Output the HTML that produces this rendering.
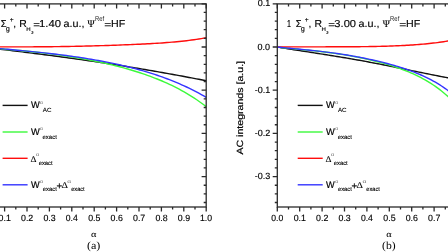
<!DOCTYPE html>
<html><head><meta charset="utf-8"><style>
html,body{margin:0;padding:0;background:#fff;width:448px;height:252px;overflow:hidden}
svg{display:block}
</style></head><body>
<svg width="448" height="252" viewBox="0 0 448 252" text-rendering="geometricPrecision">
<path d="M-12.00,47.70 L-9.55,48.00 L-7.10,48.30 L-4.64,48.59 L-2.19,48.89 L0.26,49.19 L2.71,49.49 L5.16,49.79 L7.61,50.09 L10.07,50.39 L12.52,50.69 L14.97,50.99 L17.42,51.29 L19.87,51.59 L22.32,51.90 L24.78,52.20 L27.23,52.51 L29.68,52.82 L32.13,53.13 L34.58,53.44 L37.03,53.75 L39.49,54.06 L41.94,54.38 L44.39,54.69 L46.84,55.01 L49.29,55.33 L51.74,55.65 L54.20,55.98 L56.65,56.30 L59.10,56.63 L61.55,56.96 L64.00,57.29 L66.45,57.62 L68.91,57.96 L71.36,58.29 L73.81,58.63 L76.26,58.97 L78.71,59.32 L81.16,59.66 L83.62,60.01 L86.07,60.36 L88.52,60.72 L90.97,61.07 L93.42,61.43 L95.87,61.79 L98.33,62.15 L100.78,62.52 L103.23,62.89 L105.68,63.26 L108.13,63.63 L110.58,64.00 L113.04,64.38 L115.49,64.76 L117.94,65.15 L120.39,65.53 L122.84,65.92 L125.29,66.31 L127.75,66.71 L130.20,67.10 L132.65,67.50 L135.10,67.91 L137.55,68.31 L140.00,68.72 L142.46,69.13 L144.91,69.54 L147.36,69.96 L149.81,70.38 L152.26,70.80 L154.71,71.22 L157.17,71.65 L159.62,72.08 L162.07,72.51 L164.52,72.95 L166.97,73.38 L169.42,73.82 L171.88,74.27 L174.33,74.71 L176.78,75.16 L179.23,75.61 L181.68,76.06 L184.13,76.52 L186.59,76.98 L189.04,77.44 L191.49,77.90 L193.94,78.37 L196.39,78.83 L198.84,79.30 L201.30,79.78 L203.75,80.25 L206.20,80.73" stroke="#111111" stroke-width="1.4" fill="none"/>
<path d="M-12.00,47.61 L-9.55,47.86 L-7.10,48.10 L-4.64,48.33 L-2.19,48.56 L0.26,48.79 L2.71,49.01 L5.16,49.23 L7.61,49.45 L10.07,49.67 L12.52,49.89 L14.97,50.12 L17.42,50.34 L19.87,50.57 L22.32,50.80 L24.78,51.04 L27.23,51.28 L29.68,51.53 L32.13,51.78 L34.58,52.03 L37.03,52.30 L39.49,52.57 L41.94,52.84 L44.39,53.13 L46.84,53.42 L49.29,53.72 L51.74,54.03 L54.20,54.35 L56.65,54.67 L59.10,55.01 L61.55,55.35 L64.00,55.71 L66.45,56.07 L68.91,56.45 L71.36,56.83 L73.81,57.23 L76.26,57.63 L78.71,58.05 L81.16,58.47 L83.62,58.91 L86.07,59.36 L88.52,59.82 L90.97,60.29 L93.42,60.78 L95.87,61.28 L98.33,61.79 L100.78,62.31 L103.23,62.85 L105.68,63.40 L108.13,63.96 L110.58,64.54 L113.04,65.13 L115.49,65.74 L117.94,66.37 L120.39,67.01 L122.84,67.66 L125.29,68.34 L127.75,69.03 L130.20,69.74 L132.65,70.47 L135.10,71.22 L137.55,71.99 L140.00,72.78 L142.46,73.59 L144.91,74.43 L147.36,75.29 L149.81,76.18 L152.26,77.09 L154.71,78.03 L157.17,79.00 L159.62,80.00 L162.07,81.02 L164.52,82.08 L166.97,83.18 L169.42,84.31 L171.88,85.47 L174.33,86.68 L176.78,87.92 L179.23,89.21 L181.68,90.53 L184.13,91.91 L186.59,93.33 L189.04,94.80 L191.49,96.32 L193.94,97.90 L196.39,99.53 L198.84,101.22 L201.30,102.97 L203.75,104.78 L206.20,106.66" stroke="#3cfa3c" stroke-width="1.4" fill="none"/>
<path d="M-12.00,46.93 L-9.55,46.91 L-7.10,46.89 L-4.64,46.88 L-2.19,46.87 L0.26,46.87 L2.71,46.86 L5.16,46.86 L7.61,46.86 L10.07,46.86 L12.52,46.86 L14.97,46.86 L17.42,46.86 L19.87,46.86 L22.32,46.85 L24.78,46.85 L27.23,46.85 L29.68,46.84 L32.13,46.83 L34.58,46.82 L37.03,46.81 L39.49,46.80 L41.94,46.78 L44.39,46.76 L46.84,46.74 L49.29,46.72 L51.74,46.69 L54.20,46.66 L56.65,46.63 L59.10,46.60 L61.55,46.56 L64.00,46.52 L66.45,46.48 L68.91,46.44 L71.36,46.39 L73.81,46.34 L76.26,46.29 L78.71,46.24 L81.16,46.18 L83.62,46.13 L86.07,46.06 L88.52,46.00 L90.97,45.94 L93.42,45.87 L95.87,45.80 L98.33,45.73 L100.78,45.66 L103.23,45.59 L105.68,45.51 L108.13,45.43 L110.58,45.35 L113.04,45.27 L115.49,45.18 L117.94,45.10 L120.39,45.01 L122.84,44.92 L125.29,44.82 L127.75,44.72 L130.20,44.62 L132.65,44.52 L135.10,44.41 L137.55,44.30 L140.00,44.19 L142.46,44.07 L144.91,43.95 L147.36,43.82 L149.81,43.69 L152.26,43.55 L154.71,43.40 L157.17,43.25 L159.62,43.09 L162.07,42.93 L164.52,42.75 L166.97,42.57 L169.42,42.38 L171.88,42.17 L174.33,41.96 L176.78,41.73 L179.23,41.49 L181.68,41.24 L184.13,40.97 L186.59,40.68 L189.04,40.38 L191.49,40.06 L193.94,39.73 L196.39,39.37 L198.84,38.99 L201.30,38.59 L203.75,38.16 L206.20,37.71" stroke="#ff0d0d" stroke-width="1.4" fill="none"/>
<path d="M-12.00,47.54 L-9.55,47.77 L-7.10,47.99 L-4.64,48.21 L-2.19,48.43 L0.26,48.65 L2.71,48.87 L5.16,49.09 L7.61,49.31 L10.07,49.53 L12.52,49.75 L14.97,49.98 L17.42,50.20 L19.87,50.43 L22.32,50.66 L24.78,50.89 L27.23,51.13 L29.68,51.37 L32.13,51.61 L34.58,51.86 L37.03,52.11 L39.49,52.37 L41.94,52.63 L44.39,52.89 L46.84,53.16 L49.29,53.44 L51.74,53.72 L54.20,54.01 L56.65,54.31 L59.10,54.61 L61.55,54.92 L64.00,55.23 L66.45,55.55 L68.91,55.88 L71.36,56.22 L73.81,56.57 L76.26,56.92 L78.71,57.28 L81.16,57.66 L83.62,58.04 L86.07,58.43 L88.52,58.82 L90.97,59.23 L93.42,59.65 L95.87,60.08 L98.33,60.52 L100.78,60.97 L103.23,61.43 L105.68,61.91 L108.13,62.39 L110.58,62.89 L113.04,63.40 L115.49,63.93 L117.94,64.46 L120.39,65.01 L122.84,65.58 L125.29,66.16 L127.75,66.75 L130.20,67.36 L132.65,67.99 L135.10,68.63 L137.55,69.29 L140.00,69.97 L142.46,70.67 L144.91,71.38 L147.36,72.11 L149.81,72.87 L152.26,73.64 L154.71,74.43 L157.17,75.25 L159.62,76.09 L162.07,76.95 L164.52,77.84 L166.97,78.75 L169.42,79.68 L171.88,80.64 L174.33,81.63 L176.78,82.65 L179.23,83.70 L181.68,84.77 L184.13,85.88 L186.59,87.01 L189.04,88.18 L191.49,89.39 L193.94,90.62 L196.39,91.90 L198.84,93.21 L201.30,94.55 L203.75,95.94 L206.20,97.37" stroke="#3434ff" stroke-width="1.4" fill="none"/>
<rect x="-17.8" y="3.9" width="224.0" height="203.1" fill="none" stroke="#2a2a2a" stroke-width="1.3"/>
<path d="M-17.80,207.0v4.6 M-17.80,3.9v4.6 M-6.60,207.0v2.5 M-6.60,3.9v2.5 M4.60,207.0v4.6 M4.60,3.9v4.6 M15.80,207.0v2.5 M15.80,3.9v2.5 M27.00,207.0v4.6 M27.00,3.9v4.6 M38.20,207.0v2.5 M38.20,3.9v2.5 M49.40,207.0v4.6 M49.40,3.9v4.6 M60.60,207.0v2.5 M60.60,3.9v2.5 M71.80,207.0v4.6 M71.80,3.9v4.6 M83.00,207.0v2.5 M83.00,3.9v2.5 M94.20,207.0v4.6 M94.20,3.9v4.6 M105.40,207.0v2.5 M105.40,3.9v2.5 M116.60,207.0v4.6 M116.60,3.9v4.6 M127.80,207.0v2.5 M127.80,3.9v2.5 M139.00,207.0v4.6 M139.00,3.9v4.6 M150.20,207.0v2.5 M150.20,3.9v2.5 M161.40,207.0v4.6 M161.40,3.9v4.6 M172.60,207.0v2.5 M172.60,3.9v2.5 M183.80,207.0v4.6 M183.80,3.9v4.6 M195.00,207.0v2.5 M195.00,3.9v2.5 M206.20,207.0v4.6 M206.20,3.9v4.6 M-17.8,202.52h-2.5 M206.2,202.52h-2.5 M-17.8,193.88h-2.5 M206.2,193.88h-2.5 M-17.8,185.24h-2.5 M206.2,185.24h-2.5 M-17.8,176.60h-4.6 M206.2,176.60h-4.6 M-17.8,167.96h-2.5 M206.2,167.96h-2.5 M-17.8,159.32h-2.5 M206.2,159.32h-2.5 M-17.8,150.68h-2.5 M206.2,150.68h-2.5 M-17.8,142.04h-2.5 M206.2,142.04h-2.5 M-17.8,133.40h-4.6 M206.2,133.40h-4.6 M-17.8,124.76h-2.5 M206.2,124.76h-2.5 M-17.8,116.12h-2.5 M206.2,116.12h-2.5 M-17.8,107.48h-2.5 M206.2,107.48h-2.5 M-17.8,98.84h-2.5 M206.2,98.84h-2.5 M-17.8,90.20h-4.6 M206.2,90.20h-4.6 M-17.8,81.56h-2.5 M206.2,81.56h-2.5 M-17.8,72.92h-2.5 M206.2,72.92h-2.5 M-17.8,64.28h-2.5 M206.2,64.28h-2.5 M-17.8,55.64h-2.5 M206.2,55.64h-2.5 M-17.8,47.00h-4.6 M206.2,47.00h-4.6 M-17.8,38.36h-2.5 M206.2,38.36h-2.5 M-17.8,29.72h-2.5 M206.2,29.72h-2.5 M-17.8,21.08h-2.5 M206.2,21.08h-2.5 M-17.8,12.44h-2.5 M206.2,12.44h-2.5 M-17.8,3.80h-4.6 M206.2,3.80h-4.6" stroke="#2a2a2a" stroke-width="1.3" fill="none"/>
<path d="M277.30,47.00 L279.35,47.35 L281.41,47.70 L283.46,48.04 L285.51,48.38 L287.56,48.72 L289.62,49.05 L291.67,49.38 L293.72,49.70 L295.78,50.02 L297.83,50.35 L299.88,50.66 L301.93,50.98 L303.99,51.30 L306.04,51.62 L308.09,51.93 L310.14,52.25 L312.20,52.56 L314.25,52.88 L316.30,53.20 L318.36,53.51 L320.41,53.83 L322.46,54.15 L324.51,54.47 L326.57,54.80 L328.62,55.12 L330.67,55.45 L332.73,55.78 L334.78,56.11 L336.83,56.44 L338.88,56.78 L340.94,57.12 L342.99,57.46 L345.04,57.80 L347.10,58.15 L349.15,58.50 L351.20,58.86 L353.25,59.22 L355.31,59.58 L357.36,59.94 L359.41,60.31 L361.47,60.68 L363.52,61.05 L365.57,61.43 L367.62,61.81 L369.68,62.19 L371.73,62.58 L373.78,62.97 L375.83,63.36 L377.89,63.76 L379.94,64.16 L381.99,64.56 L384.05,64.97 L386.10,65.37 L388.15,65.78 L390.20,66.19 L392.26,66.61 L394.31,67.02 L396.36,67.44 L398.42,67.86 L400.47,68.28 L402.52,68.70 L404.57,69.12 L406.63,69.55 L408.68,69.97 L410.73,70.39 L412.79,70.82 L414.84,71.24 L416.89,71.66 L418.94,72.09 L421.00,72.51 L423.05,72.93 L425.10,73.34 L427.16,73.76 L429.21,74.17 L431.26,74.58 L433.31,74.99 L435.37,75.39 L437.42,75.79 L439.47,76.19 L441.52,76.58 L443.58,76.96 L445.63,77.34 L447.68,77.71 L449.74,78.08 L451.79,78.43 L453.84,78.78 L455.89,79.13 L457.95,79.46 L460.00,79.79" stroke="#111111" stroke-width="1.4" fill="none"/>
<path d="M277.30,47.00 L279.35,47.26 L281.41,47.50 L283.46,47.73 L285.51,47.96 L287.56,48.17 L289.62,48.38 L291.67,48.59 L293.72,48.79 L295.78,48.99 L297.83,49.19 L299.88,49.39 L301.93,49.59 L303.99,49.79 L306.04,49.99 L308.09,50.19 L310.14,50.40 L312.20,50.61 L314.25,50.83 L316.30,51.05 L318.36,51.28 L320.41,51.51 L322.46,51.75 L324.51,52.00 L326.57,52.26 L328.62,52.52 L330.67,52.79 L332.73,53.07 L334.78,53.36 L336.83,53.65 L338.88,53.96 L340.94,54.27 L342.99,54.60 L345.04,54.93 L347.10,55.28 L349.15,55.63 L351.20,56.00 L353.25,56.37 L355.31,56.76 L357.36,57.15 L359.41,57.56 L361.47,57.98 L363.52,58.41 L365.57,58.85 L367.62,59.31 L369.68,59.78 L371.73,60.26 L373.78,60.75 L375.83,61.26 L377.89,61.79 L379.94,62.32 L381.99,62.88 L384.05,63.45 L386.10,64.04 L388.15,64.64 L390.20,65.27 L392.26,65.91 L394.31,66.58 L396.36,67.27 L398.42,67.98 L400.47,68.71 L402.52,69.47 L404.57,70.26 L406.63,71.07 L408.68,71.91 L410.73,72.79 L412.79,73.69 L414.84,74.63 L416.89,75.61 L418.94,76.63 L421.00,77.68 L423.05,78.78 L425.10,79.93 L427.16,81.12 L429.21,82.36 L431.26,83.65 L433.31,85.00 L435.37,86.40 L437.42,87.87 L439.47,89.40 L441.52,91.00 L443.58,92.67 L445.63,94.42 L447.68,96.24 L449.74,98.14 L451.79,100.13 L453.84,102.21 L455.89,104.39 L457.95,106.66 L460.00,109.03" stroke="#3cfa3c" stroke-width="1.4" fill="none"/>
<path d="M277.30,47.00 L279.35,46.98 L281.41,46.95 L283.46,46.94 L285.51,46.92 L287.56,46.90 L289.62,46.89 L291.67,46.88 L293.72,46.87 L295.78,46.86 L297.83,46.86 L299.88,46.85 L301.93,46.85 L303.99,46.84 L306.04,46.84 L308.09,46.84 L310.14,46.83 L312.20,46.83 L314.25,46.83 L316.30,46.83 L318.36,46.83 L320.41,46.83 L322.46,46.83 L324.51,46.83 L326.57,46.82 L328.62,46.82 L330.67,46.82 L332.73,46.82 L334.78,46.81 L336.83,46.81 L338.88,46.80 L340.94,46.80 L342.99,46.79 L345.04,46.78 L347.10,46.77 L349.15,46.76 L351.20,46.75 L353.25,46.73 L355.31,46.72 L357.36,46.70 L359.41,46.68 L361.47,46.66 L363.52,46.63 L365.57,46.61 L367.62,46.58 L369.68,46.55 L371.73,46.51 L373.78,46.47 L375.83,46.43 L377.89,46.39 L379.94,46.34 L381.99,46.29 L384.05,46.24 L386.10,46.18 L388.15,46.12 L390.20,46.05 L392.26,45.98 L394.31,45.90 L396.36,45.82 L398.42,45.73 L400.47,45.63 L402.52,45.53 L404.57,45.43 L406.63,45.32 L408.68,45.20 L410.73,45.07 L412.79,44.93 L414.84,44.79 L416.89,44.64 L418.94,44.48 L421.00,44.31 L423.05,44.13 L425.10,43.94 L427.16,43.74 L429.21,43.53 L431.26,43.31 L433.31,43.07 L435.37,42.83 L437.42,42.57 L439.47,42.29 L441.52,42.01 L443.58,41.71 L445.63,41.39 L447.68,41.05 L449.74,40.70 L451.79,40.34 L453.84,39.95 L455.89,39.55 L457.95,39.13 L460.00,38.68" stroke="#ff0d0d" stroke-width="1.4" fill="none"/>
<path d="M277.30,47.00 L279.35,47.23 L281.41,47.45 L283.46,47.67 L285.51,47.88 L287.56,48.08 L289.62,48.28 L291.67,48.47 L293.72,48.66 L295.78,48.86 L297.83,49.05 L299.88,49.24 L301.93,49.43 L303.99,49.63 L306.04,49.83 L308.09,50.03 L310.14,50.23 L312.20,50.44 L314.25,50.66 L316.30,50.88 L318.36,51.11 L320.41,51.34 L322.46,51.58 L324.51,51.83 L326.57,52.08 L328.62,52.34 L330.67,52.61 L332.73,52.89 L334.78,53.17 L336.83,53.46 L338.88,53.76 L340.94,54.07 L342.99,54.39 L345.04,54.71 L347.10,55.05 L349.15,55.39 L351.20,55.74 L353.25,56.10 L355.31,56.47 L357.36,56.85 L359.41,57.24 L361.47,57.64 L363.52,58.04 L365.57,58.46 L367.62,58.88 L369.68,59.32 L371.73,59.77 L373.78,60.23 L375.83,60.69 L377.89,61.17 L379.94,61.67 L381.99,62.17 L384.05,62.69 L386.10,63.22 L388.15,63.76 L390.20,64.32 L392.26,64.89 L394.31,65.48 L396.36,66.08 L398.42,66.70 L400.47,67.34 L402.52,68.00 L404.57,68.68 L406.63,69.38 L408.68,70.11 L410.73,70.85 L412.79,71.63 L414.84,72.42 L416.89,73.25 L418.94,74.11 L421.00,74.99 L423.05,75.91 L425.10,76.87 L427.16,77.86 L429.21,78.89 L431.26,79.96 L433.31,81.07 L435.37,82.23 L437.42,83.44 L439.47,84.70 L441.52,86.01 L443.58,87.38 L445.63,88.80 L447.68,90.29 L449.74,91.85 L451.79,93.47 L453.84,95.16 L455.89,96.93 L457.95,98.78 L460.00,100.72" stroke="#3434ff" stroke-width="1.4" fill="none"/>
<rect x="277.3" y="3.9" width="224.0" height="203.1" fill="none" stroke="#2a2a2a" stroke-width="1.3"/>
<path d="M277.30,207.0v4.6 M277.30,3.9v4.6 M288.50,207.0v2.5 M288.50,3.9v2.5 M299.70,207.0v4.6 M299.70,3.9v4.6 M310.90,207.0v2.5 M310.90,3.9v2.5 M322.10,207.0v4.6 M322.10,3.9v4.6 M333.30,207.0v2.5 M333.30,3.9v2.5 M344.50,207.0v4.6 M344.50,3.9v4.6 M355.70,207.0v2.5 M355.70,3.9v2.5 M366.90,207.0v4.6 M366.90,3.9v4.6 M378.10,207.0v2.5 M378.10,3.9v2.5 M389.30,207.0v4.6 M389.30,3.9v4.6 M400.50,207.0v2.5 M400.50,3.9v2.5 M411.70,207.0v4.6 M411.70,3.9v4.6 M422.90,207.0v2.5 M422.90,3.9v2.5 M434.10,207.0v4.6 M434.10,3.9v4.6 M445.30,207.0v2.5 M445.30,3.9v2.5 M456.50,207.0v4.6 M456.50,3.9v4.6 M467.70,207.0v2.5 M467.70,3.9v2.5 M478.90,207.0v4.6 M478.90,3.9v4.6 M490.10,207.0v2.5 M490.10,3.9v2.5 M501.30,207.0v4.6 M501.30,3.9v4.6 M277.3,202.52h-2.5 M501.3,202.52h-2.5 M277.3,193.88h-2.5 M501.3,193.88h-2.5 M277.3,185.24h-2.5 M501.3,185.24h-2.5 M277.3,176.60h-4.6 M501.3,176.60h-4.6 M277.3,167.96h-2.5 M501.3,167.96h-2.5 M277.3,159.32h-2.5 M501.3,159.32h-2.5 M277.3,150.68h-2.5 M501.3,150.68h-2.5 M277.3,142.04h-2.5 M501.3,142.04h-2.5 M277.3,133.40h-4.6 M501.3,133.40h-4.6 M277.3,124.76h-2.5 M501.3,124.76h-2.5 M277.3,116.12h-2.5 M501.3,116.12h-2.5 M277.3,107.48h-2.5 M501.3,107.48h-2.5 M277.3,98.84h-2.5 M501.3,98.84h-2.5 M277.3,90.20h-4.6 M501.3,90.20h-4.6 M277.3,81.56h-2.5 M501.3,81.56h-2.5 M277.3,72.92h-2.5 M501.3,72.92h-2.5 M277.3,64.28h-2.5 M501.3,64.28h-2.5 M277.3,55.64h-2.5 M501.3,55.64h-2.5 M277.3,47.00h-4.6 M501.3,47.00h-4.6 M277.3,38.36h-2.5 M501.3,38.36h-2.5 M277.3,29.72h-2.5 M501.3,29.72h-2.5 M277.3,21.08h-2.5 M501.3,21.08h-2.5 M277.3,12.44h-2.5 M501.3,12.44h-2.5 M277.3,3.80h-4.6 M501.3,3.80h-4.6" stroke="#2a2a2a" stroke-width="1.3" fill="none"/>
<path d="M2.60,105.4h25" stroke="#111111" stroke-width="1.4"/>
<path d="M2.60,132.0h25" stroke="#3cfa3c" stroke-width="1.4"/>
<path d="M2.60,158.3h25" stroke="#ff0d0d" stroke-width="1.4"/>
<path d="M2.60,184.8h25" stroke="#3434ff" stroke-width="1.4"/>
<path d="M297.70,105.4h25" stroke="#111111" stroke-width="1.4"/>
<path d="M297.70,132.0h25" stroke="#3cfa3c" stroke-width="1.4"/>
<path d="M297.70,158.3h25" stroke="#ff0d0d" stroke-width="1.4"/>
<path d="M297.70,184.8h25" stroke="#3434ff" stroke-width="1.4"/>
<text transform="translate(287.07,27.10) scale(0.706,1)" font-family='"Liberation Sans",Arial,sans-serif' font-size="10.1" fill="#000" stroke="#000" stroke-width="0.198">1</text>
<text transform="translate(295.73,27.10) scale(0.933,1)" font-family='"Liberation Sans",Arial,sans-serif' font-size="10.1" fill="#000" stroke="#000" stroke-width="0.150">Σ</text>
<text transform="translate(300.75,31.00) scale(1.015,1)" font-family='"Liberation Sans",Arial,sans-serif' font-size="7.2" fill="#000" stroke="#000" stroke-width="0.138">g</text>
<text transform="translate(304.75,21.70) scale(1.015,1)" font-family='"Liberation Sans",Arial,sans-serif' font-size="6.6" fill="#000" stroke="#000" stroke-width="0.138">+</text>
<text transform="translate(308.40,26.60) scale(1.000,1)" font-family='"Liberation Sans",Arial,sans-serif' font-size="10.1" fill="#000" stroke="#000" stroke-width="0.140">,</text>
<text transform="translate(314.43,27.10) scale(1.033,1)" font-family='"Liberation Sans",Arial,sans-serif' font-size="10.1" fill="#000" stroke="#000" stroke-width="0.135">R</text>
<text transform="translate(321.45,31.40) scale(1.100,1)" font-family='"Liberation Sans",Arial,sans-serif' font-size="5.5" fill="#000" stroke="#000" stroke-width="0.127">H</text>
<text transform="translate(326.23,33.90) scale(1.086,1)" font-family='"Liberation Sans",Arial,sans-serif' font-size="3.8" fill="#000" stroke="#000" stroke-width="0.129">2</text>
<text transform="translate(328.33,27.85) scale(1.140,1)" font-family='"Liberation Sans",Arial,sans-serif' font-size="10.1" fill="#000" stroke="#000" stroke-width="0.123">=</text>
<text transform="translate(334.35,27.10) scale(1.104,1)" font-family='"Liberation Sans",Arial,sans-serif' font-size="10.1" fill="#000" stroke="#000" stroke-width="0.127">3.00</text>
<text transform="translate(358.57,27.10) scale(1.068,1)" font-family='"Liberation Sans",Arial,sans-serif' font-size="10.1" fill="#000" stroke="#000" stroke-width="0.131">a.u.,</text>
<text transform="translate(382.66,27.30) scale(0.957,1)" font-family='"Liberation Serif",serif' font-size="10.1" fill="#000" stroke="#000" stroke-width="0.146">Ψ</text>
<text transform="translate(390.08,21.40) scale(0.848,1)" font-family='"Liberation Sans",Arial,sans-serif' font-size="7.0" fill="#222" stroke="#222" stroke-width="0.000">Ref</text>
<text transform="translate(399.30,27.85) scale(1.200,1)" font-family='"Liberation Sans",Arial,sans-serif' font-size="10.1" fill="#000" stroke="#000" stroke-width="0.117">=</text>
<text transform="translate(406.11,27.00) scale(1.053,1)" font-family='"Liberation Sans",Arial,sans-serif' font-size="10.1" fill="#000" stroke="#000" stroke-width="0.133">HF</text>
<text transform="translate(326.00,108.30) scale(0.967,1)" font-family='"Liberation Sans",Arial,sans-serif' font-size="9.6" fill="#000" stroke="#000" stroke-width="0.207">W</text>
<text transform="translate(335.15,103.70) scale(1.000,1)" font-family='"Liberation Serif",serif' font-size="5.6" fill="#666" stroke="#666" stroke-width="0.000">α</text>
<text transform="translate(337.90,112.30) scale(1.025,1)" font-family='"Liberation Sans",Arial,sans-serif' font-size="6.1" fill="#000" stroke="#000" stroke-width="0.098">AC</text>
<text transform="translate(326.00,134.80) scale(0.967,1)" font-family='"Liberation Sans",Arial,sans-serif' font-size="9.6" fill="#000" stroke="#000" stroke-width="0.207">W</text>
<text transform="translate(335.15,130.20) scale(1.000,1)" font-family='"Liberation Serif",serif' font-size="5.6" fill="#666" stroke="#666" stroke-width="0.000">α</text>
<text transform="translate(337.65,138.80) scale(1.011,1)" font-family='"Liberation Sans",Arial,sans-serif' font-size="5.9" fill="#000" stroke="#000" stroke-width="0.099">exact</text>
<text transform="translate(325.54,161.70) scale(1.060,1)" font-family='"Liberation Serif",serif' font-size="8.8" fill="#000" stroke="#000" stroke-width="0.094">Δ</text>
<text transform="translate(331.03,156.40) scale(1.080,1)" font-family='"Liberation Serif",serif' font-size="5.6" fill="#666" stroke="#666" stroke-width="0.000">α</text>
<text transform="translate(333.75,165.30) scale(0.989,1)" font-family='"Liberation Sans",Arial,sans-serif' font-size="5.9" fill="#000" stroke="#000" stroke-width="0.101">exact</text>
<text transform="translate(326.10,187.80) scale(0.956,1)" font-family='"Liberation Sans",Arial,sans-serif' font-size="9.6" fill="#000" stroke="#000" stroke-width="0.209">W</text>
<text transform="translate(335.14,182.90) scale(1.040,1)" font-family='"Liberation Serif",serif' font-size="5.6" fill="#666" stroke="#666" stroke-width="0.000">α</text>
<text transform="translate(337.95,191.20) scale(0.989,1)" font-family='"Liberation Sans",Arial,sans-serif' font-size="5.9" fill="#000" stroke="#000" stroke-width="0.101">exact</text>
<text transform="translate(351.49,188.55) scale(1.011,1)" font-family='"Liberation Sans",Arial,sans-serif' font-size="9.6" fill="#000" stroke="#000" stroke-width="0.198">+</text>
<text transform="translate(356.51,187.80) scale(1.140,1)" font-family='"Liberation Serif",serif' font-size="8.8" fill="#000" stroke="#000" stroke-width="0.088">Δ</text>
<text transform="translate(362.47,182.90) scale(1.320,1)" font-family='"Liberation Serif",serif' font-size="5.6" fill="#666" stroke="#666" stroke-width="0.000">α</text>
<text transform="translate(366.26,191.20) scale(0.960,1)" font-family='"Liberation Sans",Arial,sans-serif' font-size="5.9" fill="#000" stroke="#000" stroke-width="0.104">exact</text>
<text transform="translate(386.21,237.10) scale(1.176,1)" font-family='"Liberation Serif",serif' font-size="8.8" fill="#000" stroke="#000" stroke-width="0.043">α</text>
<text transform="translate(382.07,248.75) scale(1.055,1)" font-family='"Liberation Serif",serif' font-size="11.0" fill="#000" stroke="#000" stroke-width="0.000">(b)</text>
<text transform="translate(-8.03,27.10) scale(0.706,1)" font-family='"Liberation Sans",Arial,sans-serif' font-size="10.1" fill="#000" stroke="#000" stroke-width="0.198">1</text>
<text transform="translate(0.63,27.10) scale(0.933,1)" font-family='"Liberation Sans",Arial,sans-serif' font-size="10.1" fill="#000" stroke="#000" stroke-width="0.150">Σ</text>
<text transform="translate(5.65,31.00) scale(1.015,1)" font-family='"Liberation Sans",Arial,sans-serif' font-size="7.2" fill="#000" stroke="#000" stroke-width="0.138">g</text>
<text transform="translate(9.65,21.70) scale(1.015,1)" font-family='"Liberation Sans",Arial,sans-serif' font-size="6.6" fill="#000" stroke="#000" stroke-width="0.138">+</text>
<text transform="translate(13.30,26.60) scale(1.000,1)" font-family='"Liberation Sans",Arial,sans-serif' font-size="10.1" fill="#000" stroke="#000" stroke-width="0.140">,</text>
<text transform="translate(19.32,27.10) scale(1.033,1)" font-family='"Liberation Sans",Arial,sans-serif' font-size="10.1" fill="#000" stroke="#000" stroke-width="0.135">R</text>
<text transform="translate(26.35,31.40) scale(1.100,1)" font-family='"Liberation Sans",Arial,sans-serif' font-size="5.5" fill="#000" stroke="#000" stroke-width="0.127">H</text>
<text transform="translate(31.13,33.90) scale(1.086,1)" font-family='"Liberation Sans",Arial,sans-serif' font-size="3.8" fill="#000" stroke="#000" stroke-width="0.129">2</text>
<text transform="translate(33.23,27.85) scale(1.140,1)" font-family='"Liberation Sans",Arial,sans-serif' font-size="10.1" fill="#000" stroke="#000" stroke-width="0.123">=</text>
<text transform="translate(38.96,27.10) scale(1.119,1)" font-family='"Liberation Sans",Arial,sans-serif' font-size="10.1" fill="#000" stroke="#000" stroke-width="0.125">1.40</text>
<text transform="translate(63.47,27.10) scale(1.068,1)" font-family='"Liberation Sans",Arial,sans-serif' font-size="10.1" fill="#000" stroke="#000" stroke-width="0.131">a.u.,</text>
<text transform="translate(87.56,27.30) scale(0.957,1)" font-family='"Liberation Serif",serif' font-size="10.1" fill="#000" stroke="#000" stroke-width="0.146">Ψ</text>
<text transform="translate(94.98,21.40) scale(0.848,1)" font-family='"Liberation Sans",Arial,sans-serif' font-size="7.0" fill="#222" stroke="#222" stroke-width="0.000">Ref</text>
<text transform="translate(104.20,27.85) scale(1.200,1)" font-family='"Liberation Sans",Arial,sans-serif' font-size="10.1" fill="#000" stroke="#000" stroke-width="0.117">=</text>
<text transform="translate(111.01,27.00) scale(1.053,1)" font-family='"Liberation Sans",Arial,sans-serif' font-size="10.1" fill="#000" stroke="#000" stroke-width="0.133">HF</text>
<text transform="translate(30.90,108.30) scale(0.967,1)" font-family='"Liberation Sans",Arial,sans-serif' font-size="9.6" fill="#000" stroke="#000" stroke-width="0.207">W</text>
<text transform="translate(40.05,103.70) scale(1.000,1)" font-family='"Liberation Serif",serif' font-size="5.6" fill="#666" stroke="#666" stroke-width="0.000">α</text>
<text transform="translate(42.80,112.30) scale(1.025,1)" font-family='"Liberation Sans",Arial,sans-serif' font-size="6.1" fill="#000" stroke="#000" stroke-width="0.098">AC</text>
<text transform="translate(30.90,134.80) scale(0.967,1)" font-family='"Liberation Sans",Arial,sans-serif' font-size="9.6" fill="#000" stroke="#000" stroke-width="0.207">W</text>
<text transform="translate(40.05,130.20) scale(1.000,1)" font-family='"Liberation Serif",serif' font-size="5.6" fill="#666" stroke="#666" stroke-width="0.000">α</text>
<text transform="translate(42.55,138.80) scale(1.011,1)" font-family='"Liberation Sans",Arial,sans-serif' font-size="5.9" fill="#000" stroke="#000" stroke-width="0.099">exact</text>
<text transform="translate(30.43,161.70) scale(1.060,1)" font-family='"Liberation Serif",serif' font-size="8.8" fill="#000" stroke="#000" stroke-width="0.094">Δ</text>
<text transform="translate(35.93,156.40) scale(1.080,1)" font-family='"Liberation Serif",serif' font-size="5.6" fill="#666" stroke="#666" stroke-width="0.000">α</text>
<text transform="translate(38.65,165.30) scale(0.989,1)" font-family='"Liberation Sans",Arial,sans-serif' font-size="5.9" fill="#000" stroke="#000" stroke-width="0.101">exact</text>
<text transform="translate(31.00,187.80) scale(0.956,1)" font-family='"Liberation Sans",Arial,sans-serif' font-size="9.6" fill="#000" stroke="#000" stroke-width="0.209">W</text>
<text transform="translate(40.04,182.90) scale(1.040,1)" font-family='"Liberation Serif",serif' font-size="5.6" fill="#666" stroke="#666" stroke-width="0.000">α</text>
<text transform="translate(42.85,191.20) scale(0.989,1)" font-family='"Liberation Sans",Arial,sans-serif' font-size="5.9" fill="#000" stroke="#000" stroke-width="0.101">exact</text>
<text transform="translate(56.39,188.55) scale(1.011,1)" font-family='"Liberation Sans",Arial,sans-serif' font-size="9.6" fill="#000" stroke="#000" stroke-width="0.198">+</text>
<text transform="translate(61.41,187.80) scale(1.140,1)" font-family='"Liberation Serif",serif' font-size="8.8" fill="#000" stroke="#000" stroke-width="0.088">Δ</text>
<text transform="translate(67.37,182.90) scale(1.320,1)" font-family='"Liberation Serif",serif' font-size="5.6" fill="#666" stroke="#666" stroke-width="0.000">α</text>
<text transform="translate(71.16,191.20) scale(0.960,1)" font-family='"Liberation Sans",Arial,sans-serif' font-size="5.9" fill="#000" stroke="#000" stroke-width="0.104">exact</text>
<text transform="translate(91.11,237.10) scale(1.176,1)" font-family='"Liberation Serif",serif' font-size="8.8" fill="#000" stroke="#000" stroke-width="0.043">α</text>
<text transform="translate(86.95,248.75) scale(1.102,1)" font-family='"Liberation Serif",serif' font-size="11.0" fill="#000" stroke="#000" stroke-width="0.000">(a)</text>
<text transform="translate(-1.39,220.60) scale(0.979,1)" font-family='"Liberation Sans",Arial,sans-serif' font-size="9.0" fill="#000" stroke="#000" stroke-width="0.143">0.1</text>
<text transform="translate(21.01,220.60) scale(0.979,1)" font-family='"Liberation Sans",Arial,sans-serif' font-size="9.0" fill="#000" stroke="#000" stroke-width="0.143">0.2</text>
<text transform="translate(43.41,220.60) scale(0.979,1)" font-family='"Liberation Sans",Arial,sans-serif' font-size="9.0" fill="#000" stroke="#000" stroke-width="0.143">0.3</text>
<text transform="translate(65.81,220.60) scale(0.958,1)" font-family='"Liberation Sans",Arial,sans-serif' font-size="9.0" fill="#000" stroke="#000" stroke-width="0.146">0.4</text>
<text transform="translate(88.21,220.60) scale(0.979,1)" font-family='"Liberation Sans",Arial,sans-serif' font-size="9.0" fill="#000" stroke="#000" stroke-width="0.143">0.5</text>
<text transform="translate(110.61,220.60) scale(0.979,1)" font-family='"Liberation Sans",Arial,sans-serif' font-size="9.0" fill="#000" stroke="#000" stroke-width="0.143">0.6</text>
<text transform="translate(133.01,220.60) scale(0.979,1)" font-family='"Liberation Sans",Arial,sans-serif' font-size="9.0" fill="#000" stroke="#000" stroke-width="0.143">0.7</text>
<text transform="translate(155.41,220.60) scale(0.979,1)" font-family='"Liberation Sans",Arial,sans-serif' font-size="9.0" fill="#000" stroke="#000" stroke-width="0.143">0.8</text>
<text transform="translate(177.81,220.60) scale(0.979,1)" font-family='"Liberation Sans",Arial,sans-serif' font-size="9.0" fill="#000" stroke="#000" stroke-width="0.143">0.9</text>
<text transform="translate(199.89,220.60) scale(0.970,1)" font-family='"Liberation Sans",Arial,sans-serif' font-size="9.0" fill="#000" stroke="#000" stroke-width="0.144">1.0</text>
<text transform="translate(-37.30,6.10) scale(1.000,1)" font-family='"Liberation Sans",Arial,sans-serif' font-size="9.0" fill="#000" stroke="#000" stroke-width="0.140">0.1</text>
<text transform="translate(-37.55,49.80) scale(1.000,1)" font-family='"Liberation Sans",Arial,sans-serif' font-size="9.0" fill="#000" stroke="#000" stroke-width="0.140">0.0</text>
<text transform="translate(-40.30,93.00) scale(1.000,1)" font-family='"Liberation Sans",Arial,sans-serif' font-size="9.0" fill="#000" stroke="#000" stroke-width="0.140">-0.1</text>
<text transform="translate(-40.30,136.20) scale(1.000,1)" font-family='"Liberation Sans",Arial,sans-serif' font-size="9.0" fill="#000" stroke="#000" stroke-width="0.140">-0.2</text>
<text transform="translate(-40.30,179.40) scale(1.000,1)" font-family='"Liberation Sans",Arial,sans-serif' font-size="9.0" fill="#000" stroke="#000" stroke-width="0.140">-0.3</text>
<text transform="translate(271.31,220.60) scale(0.958,1)" font-family='"Liberation Sans",Arial,sans-serif' font-size="9.0" fill="#000" stroke="#000" stroke-width="0.146">0.0</text>
<text transform="translate(293.71,220.60) scale(0.979,1)" font-family='"Liberation Sans",Arial,sans-serif' font-size="9.0" fill="#000" stroke="#000" stroke-width="0.143">0.1</text>
<text transform="translate(316.11,220.60) scale(0.979,1)" font-family='"Liberation Sans",Arial,sans-serif' font-size="9.0" fill="#000" stroke="#000" stroke-width="0.143">0.2</text>
<text transform="translate(338.51,220.60) scale(0.979,1)" font-family='"Liberation Sans",Arial,sans-serif' font-size="9.0" fill="#000" stroke="#000" stroke-width="0.143">0.3</text>
<text transform="translate(360.91,220.60) scale(0.958,1)" font-family='"Liberation Sans",Arial,sans-serif' font-size="9.0" fill="#000" stroke="#000" stroke-width="0.146">0.4</text>
<text transform="translate(383.31,220.60) scale(0.979,1)" font-family='"Liberation Sans",Arial,sans-serif' font-size="9.0" fill="#000" stroke="#000" stroke-width="0.143">0.5</text>
<text transform="translate(405.71,220.60) scale(0.979,1)" font-family='"Liberation Sans",Arial,sans-serif' font-size="9.0" fill="#000" stroke="#000" stroke-width="0.143">0.6</text>
<text transform="translate(428.11,220.60) scale(0.979,1)" font-family='"Liberation Sans",Arial,sans-serif' font-size="9.0" fill="#000" stroke="#000" stroke-width="0.143">0.7</text>
<text transform="translate(450.51,220.60) scale(0.979,1)" font-family='"Liberation Sans",Arial,sans-serif' font-size="9.0" fill="#000" stroke="#000" stroke-width="0.143">0.8</text>
<text transform="translate(257.80,6.10) scale(1.000,1)" font-family='"Liberation Sans",Arial,sans-serif' font-size="9.0" fill="#000" stroke="#000" stroke-width="0.140">0.1</text>
<text transform="translate(257.55,49.80) scale(1.000,1)" font-family='"Liberation Sans",Arial,sans-serif' font-size="9.0" fill="#000" stroke="#000" stroke-width="0.140">0.0</text>
<text transform="translate(254.80,93.00) scale(1.000,1)" font-family='"Liberation Sans",Arial,sans-serif' font-size="9.0" fill="#000" stroke="#000" stroke-width="0.140">-0.1</text>
<text transform="translate(254.80,136.20) scale(1.000,1)" font-family='"Liberation Sans",Arial,sans-serif' font-size="9.0" fill="#000" stroke="#000" stroke-width="0.140">-0.2</text>
<text transform="translate(254.80,179.40) scale(1.000,1)" font-family='"Liberation Sans",Arial,sans-serif' font-size="9.0" fill="#000" stroke="#000" stroke-width="0.140">-0.3</text>
<text transform="translate(243.10,154.60) rotate(-90) scale(1.177,1)" font-family='"Liberation Sans",Arial,sans-serif' font-size="9.0" fill="#000" stroke="#000" stroke-width="0.2">AC integrands [a.u.]</text>
</svg>
</body></html>
